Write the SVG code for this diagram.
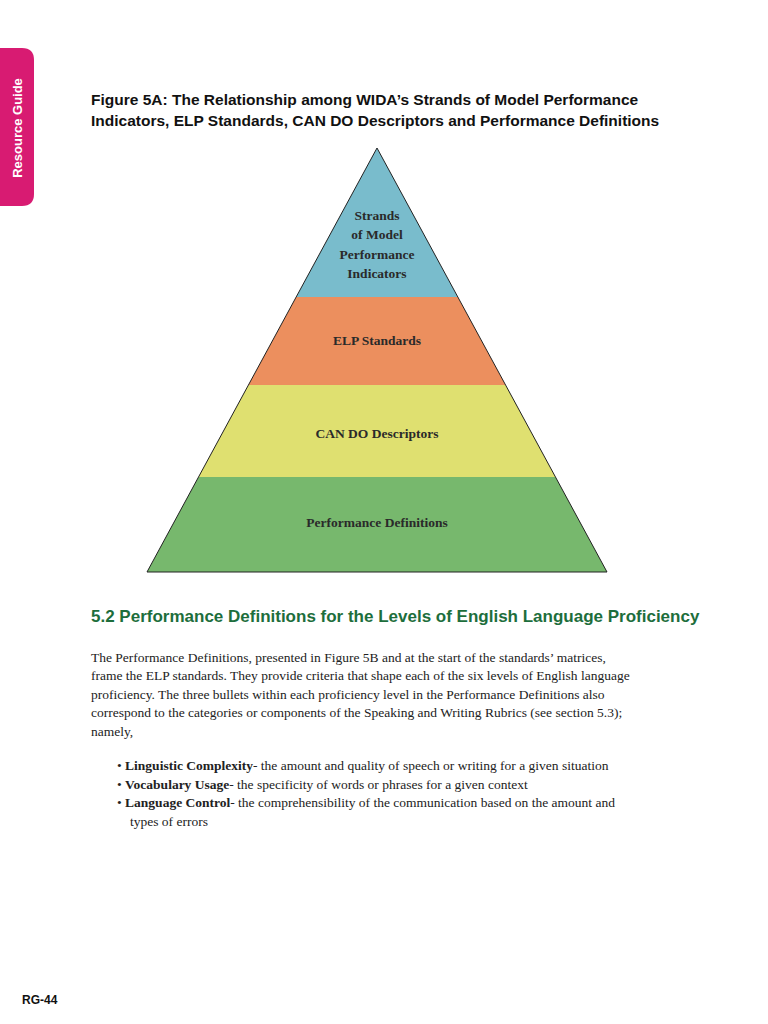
<svg xmlns="http://www.w3.org/2000/svg" width="768" height="1024" viewBox="0 0 768 1024">
<style>
.t{font-family:"Liberation Sans Narrow","Liberation Sans",sans-serif;font-weight:bold;font-size:15.5px;fill:#111}
.p{font-family:"Liberation Serif",serif;font-weight:bold;font-size:13.5px;fill:#2a2a2a;text-anchor:middle}
.b{font-family:"Liberation Serif",serif;font-size:13.5px;fill:#222}
</style>
<defs><clipPath id="tri"><polygon points="377,148 147,572 607,572"/></clipPath></defs>
<rect width="768" height="1024" fill="#fff"/>
<path d="M0,48 H22 Q34,48 34,60 V194 Q34,206 22,206 H0 Z" fill="#d81b72"/>
<text transform="translate(22,128) rotate(-90)" text-anchor="middle" font-family="Liberation Sans,sans-serif" font-weight="bold" font-size="13" fill="#fff">Resource Guide</text>
<text class="t" x="91" y="105">Figure 5A: The Relationship among WIDA’s Strands of Model Performance</text>
<text class="t" x="91" y="126">Indicators, ELP Standards, CAN DO Descriptors and Performance Definitions</text>
<g id="pyramid" clip-path="url(#tri)">
<rect x="140" y="140" width="480" height="157" fill="#79bccc"/>
<rect x="140" y="297" width="480" height="88" fill="#ec8f5e"/>
<rect x="140" y="385" width="480" height="92" fill="#dfe070"/>
<rect x="140" y="477" width="480" height="100" fill="#77b86d"/>
</g>
<polygon points="377,148 147,572 607,572" fill="none" stroke="#222" stroke-width="1"/>
<g id="n1"><text class="p" x="377" y="220">Strands</text><text class="p" x="377" y="239">of Model</text><text class="p" x="377" y="259">Performance</text><text class="p" x="377" y="278">Indicators</text></g>
<g id="n2"><text class="p" x="377" y="345">ELP Standards</text></g>
<g id="n3"><text class="p" x="377" y="438">CAN DO Descriptors</text></g>
<g id="n4"><text class="p" x="377" y="527">Performance Definitions</text></g>
<g id="connectors"/>
<text x="91" y="622" font-family="Liberation Sans Narrow,Liberation Sans,sans-serif" font-weight="bold" font-size="17" fill="#1d6e3c">5.2 Performance Definitions for the Levels of English Language Proficiency</text>
<text class="b" x="91" y="662">The Performance Definitions, presented in Figure 5B and at the start of the standards’ matrices,</text>
<text class="b" x="91" y="680">frame the ELP standards. They provide criteria that shape each of the six levels of English language</text>
<text class="b" x="91" y="699">proficiency. The three bullets within each proficiency level in the Performance Definitions also</text>
<text class="b" x="91" y="717">correspond to the categories or components of the Speaking and Writing Rubrics (see section 5.3);</text>
<text class="b" x="91" y="736">namely,</text>
<text class="b" x="117" y="770">• <tspan font-weight="bold">Linguistic Complexity</tspan>- the amount and quality of speech or writing for a given situation</text>
<text class="b" x="117" y="789">• <tspan font-weight="bold">Vocabulary Usage</tspan>- the specificity of words or phrases for a given context</text>
<text class="b" x="117" y="807">• <tspan font-weight="bold">Language Control</tspan>- the comprehensibility of the communication based on the amount and</text>
<text class="b" x="130" y="826">types of errors</text>
<text x="22" y="1004" font-family="Liberation Sans,sans-serif" font-weight="bold" font-size="12" fill="#111">RG-44</text>
</svg>
